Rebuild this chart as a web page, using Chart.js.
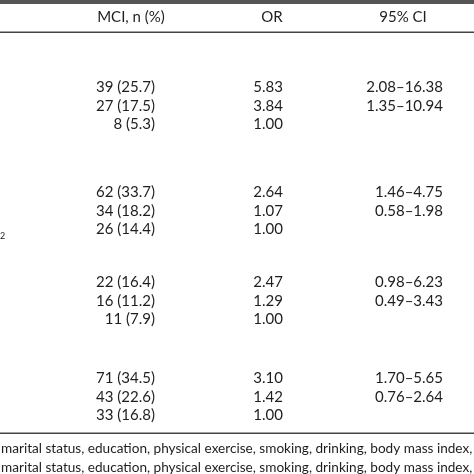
<!DOCTYPE html>
<html>
<head>
<meta charset="utf-8">
<script src="https://cdn.jsdelivr.net/npm/chart.js@4"></script>
<style>
  html, body { margin: 0; padding: 0; background: #fff; }
  #wrap { width: 474px; height: 474px; }
</style>
</head>
<body>
<div id="wrap"><canvas id="tbl"></canvas></div>
<script>
// Table contents
const headers = ['MCI, n (%)', 'OR', '95% CI'];
const mciCounts = [
    ['39 (25.7)', '27 (17.5)', '8 (5.3)'],
    ['62 (33.7)', '34 (18.2)', '26 (14.4)'],
    ['22 (16.4)', '16 (11.2)', '11 (7.9)'],
    ['71 (34.5)', '43 (22.6)', '33 (16.8)']
];
const oddsRatios = [
    [5.83, 3.84, 1.00],
    [2.64, 1.07, 1.00],
    [2.47, 1.29, 1.00],
    [3.10, 1.42, 1.00]
];
const ciLabels = [
    ['2.08\u201316.38', '1.35\u201310.94', ''],
    ['1.46\u20134.75', '0.58\u20131.98', ''],
    ['0.98\u20136.23', '0.49\u20133.43', ''],
    ['1.70\u20135.65', '0.76\u20132.64', '']
];
const footnotes = [
    'marital status, education, physical exercise, smoking, drinking, body mass index, chronic',
    'marital status, education, physical exercise, smoking, drinking, body mass index, chronic'
];

// layout (in scale units, 0..474 on both axes)
const groupTop = [87, 192, 282, 378];
const rowStep = 18.8;
const colRight = [155, 283, 443];
const headCenter = [131, 272, 403];
const FONT = '"Lato", "Open Sans", sans-serif';

const tablePlugin = {
    id: 'tableText',
    afterDraw(chart) {
        const ctx = chart.ctx;
        const xs = chart.scales.x, ys = chart.scales.y;
        ctx.save();
        // rules
        ctx.fillStyle = '#555';
        ctx.fillRect(0, ys.getPixelForValue(0), 474, 4);
        ctx.fillStyle = '#444';
        ctx.fillRect(0, ys.getPixelForValue(31.5), 474, 1.5);
        ctx.fillRect(0, ys.getPixelForValue(432.5), 474, 1.5);

        ctx.fillStyle = '#1e1e1e';
        ctx.textBaseline = 'middle';
        ctx.font = '15px ' + FONT;
        ctx.textAlign = 'center';
        headers.forEach((h, i) => ctx.fillText(h, xs.getPixelForValue(headCenter[i]), ys.getPixelForValue(17)));

        ctx.textAlign = 'right';
        groupTop.forEach((top, g) => {
            for (let r = 0; r < 3; r++) {
                const y = ys.getPixelForValue(top + r * rowStep);
                ctx.fillText(mciCounts[g][r], xs.getPixelForValue(colRight[0]), y);
                ctx.fillText(oddsRatios[g][r].toFixed(2), xs.getPixelForValue(colRight[1]), y);
                if (ciLabels[g][r]) ctx.fillText(ciLabels[g][r], xs.getPixelForValue(colRight[2]), y);
            }
        });

        ctx.font = '9px ' + FONT;
        ctx.textAlign = 'left';
        ctx.fillText('2', xs.getPixelForValue(0), ys.getPixelForValue(236));

        ctx.font = '13.6px ' + FONT;
        footnotes.forEach((f, i) => ctx.fillText(f, xs.getPixelForValue(1), ys.getPixelForValue(449 + i * 19)));
        ctx.restore();
    }
};

new Chart(document.getElementById('tbl'), {
    type: 'scatter',
    data: { datasets: [{ data: [], pointRadius: 0 }] },
    options: {
        responsive: true,
        maintainAspectRatio: false,
        animation: false,
        layout: { padding: 0 },
        plugins: { legend: { display: false }, tooltip: { enabled: false } },
        scales: {
            x: { type: 'linear', min: 0, max: 474, display: false },
            y: { type: 'linear', min: 0, max: 474, reverse: true, display: false }
        }
    },
    plugins: [tablePlugin]
});
</script>
</body>
</html>
